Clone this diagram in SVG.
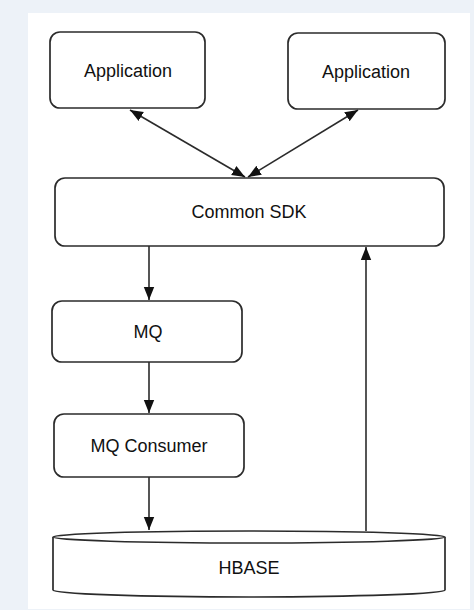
<svg xmlns="http://www.w3.org/2000/svg" width="474" height="610" viewBox="0 0 474 610">
<style>
.box{fill:#fff;stroke:#2b2b2b;stroke-width:1.7}
.lbl{font-family:"Liberation Sans",Arial,sans-serif;font-size:18px;fill:#111;text-anchor:middle}
.edge{fill:none;stroke:#2b2b2b;stroke-width:1.6}
</style>
<defs>
<marker id="ah2" viewBox="0 0 10 10" refX="10" refY="5" markerWidth="13" markerHeight="13" orient="auto-start-reverse" markerUnits="userSpaceOnUse">
<path d="M0,1 L10,5 L0,9 z" fill="#111"/>
</marker>
</defs>
<rect x="0" y="0" width="474" height="610" fill="#edf2f8"/>
<rect x="28" y="13" width="442" height="596" fill="#fff"/>
<g id="app1"><rect class="box" x="50" y="32" width="155" height="76" rx="10"/><text class="lbl" x="128" y="77">Application</text></g>
<g id="app2"><rect class="box" x="288" y="33" width="157" height="76" rx="10"/><text class="lbl" x="366" y="78">Application</text></g>
<g id="sdk"><rect class="box" x="55" y="178" width="389" height="68" rx="10"/><text class="lbl" x="249" y="218">Common SDK</text></g>
<g id="mq"><rect class="box" x="52" y="301" width="190" height="61" rx="10"/><text class="lbl" x="148" y="338">MQ</text></g>
<g id="consumer"><rect class="box" x="54" y="414" width="190" height="63" rx="10"/><text class="lbl" x="149" y="452">MQ Consumer</text></g>
<g id="hbase">
<path class="box" d="M53,537 L53,590 A196,7 0 0 0 445,590 L445,537"/>
<ellipse class="box" cx="249" cy="537" rx="196" ry="6"/>
<text class="lbl" x="249" y="574">HBASE</text>
</g>
<g id="connectors">
<line class="edge" x1="130" y1="110" x2="245" y2="177" marker-start="url(#ah2)" marker-end="url(#ah2)"/>
<line class="edge" x1="358" y1="110" x2="248" y2="177" marker-start="url(#ah2)" marker-end="url(#ah2)"/>
<line class="edge" x1="149" y1="246" x2="149" y2="300" marker-end="url(#ah2)"/>
<line class="edge" x1="149" y1="362" x2="149" y2="413" marker-end="url(#ah2)"/>
<line class="edge" x1="149" y1="477" x2="149" y2="530" marker-end="url(#ah2)"/>
<line class="edge" x1="366" y1="531" x2="366" y2="247" marker-end="url(#ah2)"/>
</g>
</svg>
